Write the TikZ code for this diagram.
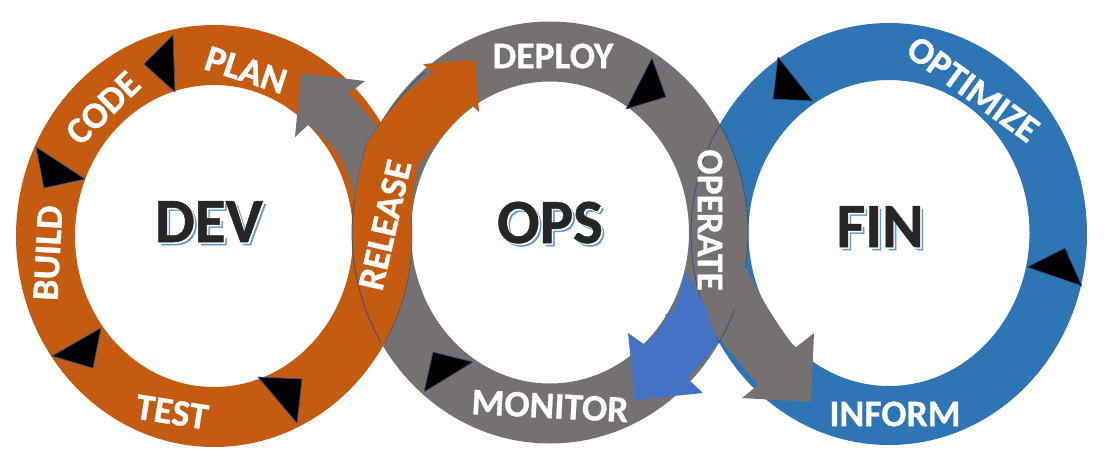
\documentclass[tikz,border=0pt]{standalone}
\usepackage{fontspec}
\setmainfont{Carlito}[BoldFeatures={FakeBold=0.8}]
\definecolor{ringorange}{HTML}{C55A11}
\definecolor{ringgray}{HTML}{767171}
\definecolor{ringblue}{HTML}{2E75B6}
\definecolor{arrowblue}{HTML}{4472C4}
\definecolor{edgeblue}{HTML}{2F528F}
\definecolor{titledark}{HTML}{262626}
\definecolor{titleshadow}{HTML}{5B9BD5}
\newcommand{\shadowtitle}[1]{\rlap{\kern3pt\raisebox{-3pt}{\textcolor{titleshadow}{#1}}}\rlap{\kern1.5pt\raisebox{-1.5pt}{\textcolor{white}{#1}}}\textcolor{titledark}{#1}}
\tikzset{
  ringband/.style={even odd rule,draw=none},
  tri/.style={fill=black,draw=edgeblue,line width=0.7pt,line join=round},
  seam/.style={draw=edgeblue,line width=0.8pt},
  lbl/.style={text=white,font=\bfseries\fontsize{37.5}{37.5}\selectfont,inner sep=0pt,anchor=center},
  ttl/.style={font=\bfseries\fontsize{63}{63}\selectfont,inner sep=0pt,anchor=base},
}
\begin{document}
\begin{tikzpicture}[x=1pt,y=-1pt]
\useasboundingbox (0,0) rectangle (1114,475);
\fill[white] (0,0) rectangle (1114,475);
% rings
\fill[ringblue,ringband] (889,234) ellipse [x radius=198pt,y radius=211pt] (889,233) ellipse [x radius=140.5pt,y radius=153pt];
\fill[ringgray,ringband] (550,232.5) ellipse [x radius=198pt,y radius=211pt] (550,232.5) ellipse [x radius=139pt,y radius=151pt];
\fill[ringorange,ringband] (214,236) ellipse [x radius=198pt,y radius=211pt] (214,236) ellipse [x radius=139pt,y radius=151pt];
% seams
\draw[seam] plot[domain=148.5:211,samples=40] ({550+198*cos(\x)},{232.5+211*sin(\x)});
\draw[edgeblue,line width=0.5pt] plot[domain=-32:30.5,samples=40] ({214+198*cos(\x)},{236+211*sin(\x)});
\draw[seam] plot[domain=149:211,samples=40] ({889+198*cos(\x)},{234+211*sin(\x)});
\draw[seam] plot[domain=-30.6:21,samples=40] ({550+198*cos(\x)},{232.5+211*sin(\x)});
% gray arrow on DEV
\fill[ringgray] (301,73) -- (365,81) -- (348,94) .. controls (360,105) and (370,117) .. (378,128) -- (378,150) -- (355,202) .. controls (352,180) and (342,158) .. (333,147) .. controls (325,138) and (316,131) .. (308,125) -- (295,137) -- cycle;
% orange arrow on OPS
\draw[edgeblue,line width=0.8pt] (425,72) .. controls (408,88) and (392,106) .. (380,124) -- (367,143) .. controls (362,160) and (356,185) .. (353,220);
\fill[ringorange] (475,60) -- (479,112) -- (472,105) .. controls (455,122) and (436,142) .. (418,165) .. controls (415,180) and (412,195) .. (412,215) -- (353,220) .. controls (355,190) and (361,165) .. (367,143) -- (380,124) .. controls (392,106) and (410,87) .. (433,73) -- (423,64) -- cycle;
% gray arrow to FIN
\fill[ringgray] (745,266) -- (755,285) .. controls (765,305) and (780,328) .. (795,348) -- (814,333) -- (811,402) -- (742,398) -- (758,385) -- (722,342) -- (700,300) -- cycle;
\draw[seam] plot[domain=21:31.3,samples=12] ({550+198*cos(\x)},{232.5+211*sin(\x)});
% blue arrow to MONITOR
\fill[arrowblue] (685,271) -- (708,312) .. controls (711,325) and (715,335) .. (719,343) -- (687,378) -- (703,393) -- (635,400) -- (628,333) -- (645,345) -- (668,318) -- (665,315) -- (675,310) -- cycle;
% triangles
\filldraw[tri] (173,35) -- (175,92) -- (144,64) -- cycle;
\filldraw[tri] (36,147) -- (85,179) -- (44,188) -- cycle;
\filldraw[tri] (101,328) -- (93,368) -- (52,356) -- cycle;
\filldraw[tri] (258,377) -- (302,379) -- (297,423) -- cycle;
\filldraw[tri] (433,352) -- (473,362) -- (424,392) -- cycle;
\filldraw[tri] (652,58) -- (666,97) -- (626,109) -- cycle;
\filldraw[tri] (778,57) -- (813,101) -- (773,99) -- cycle;
\filldraw[tri] (1027,267) -- (1065,248) -- (1082,286) -- cycle;
% labels
\node[lbl,rotate=-18] (plan) at (246,70) {PLAN};
\node[lbl,rotate=44] (code) at (103,108) {CODE};
\node[lbl,rotate=87] (build) at (48,253) {BUILD};
\node[lbl,rotate=-9] (test) at (172,412) {TEST};
\node[lbl,rotate=77] (release) at (385,225) {RELEASE};
\node[lbl,rotate=-3] (monitor) at (550,406) {MONITOR};
\node[lbl] (deploy) at (553,56) {DEPLOY};
\node[lbl,rotate=-90] (operate) at (710,220) {OPERATE};
\node[lbl,rotate=-36] (optimize) at (973,89) {OPTIMIZE};
\node[lbl] (inform) at (895,414) {INFORM};
% titles
\node[ttl] (dev) at (209,242) {\shadowtitle{DEV}};
\node[ttl] (ops) at (550,243) {\shadowtitle{OPS}};
\node[ttl] (fin) at (880,247) {\shadowtitle{FIN}};
\end{tikzpicture}
\end{document}
